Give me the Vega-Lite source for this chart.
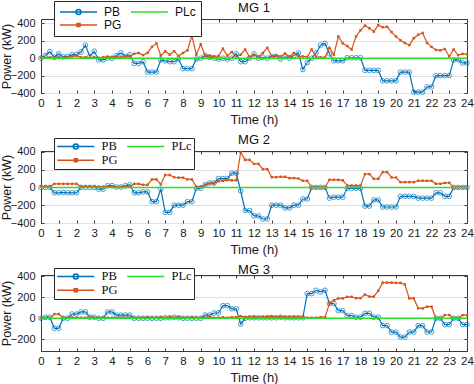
{
"$schema": "https://vega.github.io/schema/vega-lite/v6.json",
"padding": {"left": 0, "top": 0, "right": 0, "bottom": 0},
"spacing": 6,
"resolve": {"scale": {"color": "independent", "shape": "independent"}, "legend": {"color": "independent", "shape": "independent"}},
"datasets": {
"mg1": [
{"h":0,"PB":0,"PG":5,"PLc":0},{"h":0.25,"PB":30,"PG":5,"PLc":0},{"h":0.5,"PB":75,"PG":10,"PLc":0},{"h":0.75,"PB":10,"PG":5,"PLc":0},
{"h":1,"PB":50,"PG":10,"PLc":0},{"h":1.25,"PB":15,"PG":5,"PLc":0},{"h":1.5,"PB":20,"PG":10,"PLc":0},{"h":1.75,"PB":40,"PG":20,"PLc":0},
{"h":2,"PB":45,"PG":30,"PLc":0},{"h":2.25,"PB":70,"PG":10,"PLc":0},{"h":2.5,"PB":150,"PG":10,"PLc":0},{"h":2.75,"PB":20,"PG":5,"PLc":0},
{"h":3,"PB":80,"PG":10,"PLc":0},{"h":3.25,"PB":-20,"PG":5,"PLc":0},{"h":3.5,"PB":-20,"PG":10,"PLc":0},{"h":3.75,"PB":0,"PG":15,"PLc":0},
{"h":4,"PB":0,"PG":10,"PLc":0},{"h":4.25,"PB":30,"PG":15,"PLc":0},{"h":4.5,"PB":60,"PG":10,"PLc":0},{"h":4.75,"PB":20,"PG":20,"PLc":0},
{"h":5,"PB":40,"PG":15,"PLc":0},{"h":5.25,"PB":-60,"PG":50,"PLc":0},{"h":5.5,"PB":-60,"PG":60,"PLc":0},{"h":5.75,"PB":-40,"PG":35,"PLc":0},
{"h":6,"PB":-160,"PG":60,"PLc":0},{"h":6.25,"PB":-160,"PG":130,"PLc":0},{"h":6.5,"PB":-160,"PG":170,"PLc":0},{"h":6.75,"PB":-20,"PG":30,"PLc":0},
{"h":7,"PB":-30,"PG":80,"PLc":0},{"h":7.25,"PB":-40,"PG":40,"PLc":0},{"h":7.5,"PB":-40,"PG":80,"PLc":0},{"h":7.75,"PB":-10,"PG":25,"PLc":0},
{"h":8,"PB":-120,"PG":60,"PLc":0},{"h":8.25,"PB":-120,"PG":90,"PLc":0},{"h":8.5,"PB":-120,"PG":260,"PLc":0},{"h":8.75,"PB":-10,"PG":40,"PLc":0},
{"h":9,"PB":0,"PG":160,"PLc":0},{"h":9.25,"PB":30,"PG":30,"PLc":0},{"h":9.5,"PB":10,"PG":30,"PLc":0},{"h":9.75,"PB":0,"PG":20,"PLc":0},
{"h":10,"PB":-10,"PG":25,"PLc":0},{"h":10.25,"PB":0,"PG":110,"PLc":0},{"h":10.5,"PB":-10,"PG":30,"PLc":0},{"h":10.75,"PB":0,"PG":70,"PLc":0},
{"h":11,"PB":50,"PG":20,"PLc":0},{"h":11.25,"PB":-40,"PG":40,"PLc":0},{"h":11.5,"PB":-40,"PG":100,"PLc":0},{"h":11.75,"PB":0,"PG":15,"PLc":0},
{"h":12,"PB":50,"PG":35,"PLc":0},{"h":12.25,"PB":0,"PG":20,"PLc":0},{"h":12.5,"PB":10,"PG":60,"PLc":0},{"h":12.75,"PB":0,"PG":120,"PLc":0},
{"h":13,"PB":20,"PG":20,"PLc":0},{"h":13.25,"PB":20,"PG":30,"PLc":0},{"h":13.5,"PB":-10,"PG":20,"PLc":0},{"h":13.75,"PB":15,"PG":55,"PLc":0},
{"h":14,"PB":0,"PG":20,"PLc":0},{"h":14.25,"PB":30,"PG":60,"PLc":0},{"h":14.5,"PB":60,"PG":20,"PLc":0},{"h":14.75,"PB":-130,"PG":20,"PLc":0},
{"h":15,"PB":-50,"PG":15,"PLc":0},{"h":15.25,"PB":0,"PG":100,"PLc":0},{"h":15.5,"PB":60,"PG":15,"PLc":0},{"h":15.75,"PB":150,"PG":10,"PLc":0},
{"h":16,"PB":170,"PG":10,"PLc":0},{"h":16.25,"PB":50,"PG":120,"PLc":0},{"h":16.5,"PB":-30,"PG":40,"PLc":0},{"h":16.75,"PB":-30,"PG":250,"PLc":0},
{"h":17,"PB":-30,"PG":170,"PLc":0},{"h":17.25,"PB":5,"PG":140,"PLc":0},{"h":17.5,"PB":5,"PG":100,"PLc":0},{"h":17.75,"PB":5,"PG":250,"PLc":0},
{"h":18,"PB":5,"PG":320,"PLc":0},{"h":18.25,"PB":-140,"PG":375,"PLc":0},{"h":18.5,"PB":-140,"PG":345,"PLc":0},{"h":18.75,"PB":-140,"PG":305,"PLc":0},
{"h":19,"PB":-140,"PG":380,"PLc":0},{"h":19.25,"PB":-260,"PG":355,"PLc":0},{"h":19.5,"PB":-260,"PG":360,"PLc":0},{"h":19.75,"PB":-260,"PG":300,"PLc":0},
{"h":20,"PB":-260,"PG":250,"PLc":0},{"h":20.25,"PB":-160,"PG":205,"PLc":0},{"h":20.5,"PB":-160,"PG":175,"PLc":0},{"h":20.75,"PB":-160,"PG":150,"PLc":0},
{"h":21,"PB":-390,"PG":230,"PLc":0},{"h":21.25,"PB":-390,"PG":270,"PLc":0},{"h":21.5,"PB":-390,"PG":290,"PLc":0},{"h":21.75,"PB":-330,"PG":175,"PLc":0},
{"h":22,"PB":-330,"PG":130,"PLc":0},{"h":22.25,"PB":-200,"PG":95,"PLc":0},{"h":22.5,"PB":-200,"PG":90,"PLc":0},{"h":22.75,"PB":-200,"PG":105,"PLc":0},
{"h":23,"PB":-200,"PG":20,"PLc":0},{"h":23.25,"PB":-20,"PG":100,"PLc":0},{"h":23.5,"PB":-20,"PG":35,"PLc":0},{"h":23.75,"PB":-55,"PG":50,"PLc":0},
{"h":24,"PB":-55,"PG":45,"PLc":0}
],
"mg2": [
{"h":0,"PB":0,"PG":10,"PLc":0},{"h":0.25,"PB":0,"PG":10,"PLc":0},{"h":0.5,"PB":0,"PG":10,"PLc":0},{"h":0.75,"PB":-60,"PG":40,"PLc":0},
{"h":1,"PB":-60,"PG":40,"PLc":0},{"h":1.25,"PB":-55,"PG":40,"PLc":0},{"h":1.5,"PB":-60,"PG":40,"PLc":0},{"h":1.75,"PB":-60,"PG":40,"PLc":0},
{"h":2,"PB":-60,"PG":40,"PLc":0},{"h":2.25,"PB":0,"PG":10,"PLc":0},{"h":2.5,"PB":0,"PG":10,"PLc":0},{"h":2.75,"PB":0,"PG":10,"PLc":0},
{"h":3,"PB":0,"PG":10,"PLc":0},{"h":3.25,"PB":-20,"PG":10,"PLc":0},{"h":3.5,"PB":-20,"PG":10,"PLc":0},{"h":3.75,"PB":20,"PG":10,"PLc":0},
{"h":4,"PB":20,"PG":5,"PLc":0},{"h":4.25,"PB":5,"PG":5,"PLc":0},{"h":4.5,"PB":5,"PG":5,"PLc":0},{"h":4.75,"PB":20,"PG":5,"PLc":0},
{"h":5,"PB":30,"PG":5,"PLc":0},{"h":5.25,"PB":-60,"PG":40,"PLc":0},{"h":5.5,"PB":-60,"PG":40,"PLc":0},{"h":5.75,"PB":-50,"PG":30,"PLc":0},
{"h":6,"PB":-50,"PG":30,"PLc":0},{"h":6.25,"PB":-160,"PG":90,"PLc":0},{"h":6.5,"PB":-160,"PG":90,"PLc":0},{"h":6.75,"PB":-20,"PG":35,"PLc":0},
{"h":7,"PB":-280,"PG":140,"PLc":0},{"h":7.25,"PB":-280,"PG":140,"PLc":0},{"h":7.5,"PB":-200,"PG":115,"PLc":0},{"h":7.75,"PB":-200,"PG":110,"PLc":0},
{"h":8,"PB":-200,"PG":110,"PLc":0},{"h":8.25,"PB":-160,"PG":90,"PLc":0},{"h":8.5,"PB":-160,"PG":90,"PLc":0},{"h":8.75,"PB":-10,"PG":10,"PLc":0},
{"h":9,"PB":-10,"PG":10,"PLc":0},{"h":9.25,"PB":30,"PG":30,"PLc":0},{"h":9.5,"PB":50,"PG":45,"PLc":0},{"h":9.75,"PB":50,"PG":45,"PLc":0},
{"h":10,"PB":100,"PG":70,"PLc":0},{"h":10.25,"PB":100,"PG":75,"PLc":0},{"h":10.5,"PB":100,"PG":85,"PLc":0},{"h":10.75,"PB":160,"PG":80,"PLc":0},
{"h":11,"PB":160,"PG":80,"PLc":0},{"h":11.25,"PB":-40,"PG":396,"PLc":0},{"h":11.5,"PB":-260,"PG":310,"PLc":0},{"h":11.75,"PB":-260,"PG":310,"PLc":0},
{"h":12,"PB":-320,"PG":265,"PLc":0},{"h":12.25,"PB":-320,"PG":265,"PLc":0},{"h":12.5,"PB":-355,"PG":205,"PLc":0},{"h":12.75,"PB":-355,"PG":205,"PLc":0},
{"h":13,"PB":-200,"PG":115,"PLc":0},{"h":13.25,"PB":-200,"PG":115,"PLc":0},{"h":13.5,"PB":-200,"PG":120,"PLc":0},{"h":13.75,"PB":-230,"PG":120,"PLc":0},
{"h":14,"PB":-230,"PG":105,"PLc":0},{"h":14.25,"PB":-200,"PG":105,"PLc":0},{"h":14.5,"PB":-200,"PG":100,"PLc":0},{"h":14.75,"PB":-130,"PG":75,"PLc":0},
{"h":15,"PB":-130,"PG":75,"PLc":0},{"h":15.25,"PB":0,"PG":0,"PLc":0},{"h":15.5,"PB":0,"PG":0,"PLc":0},{"h":15.75,"PB":0,"PG":0,"PLc":0},
{"h":16,"PB":0,"PG":0,"PLc":0},{"h":16.25,"PB":-120,"PG":86,"PLc":0},{"h":16.5,"PB":-110,"PG":86,"PLc":0},{"h":16.75,"PB":-110,"PG":86,"PLc":0},
{"h":17,"PB":-110,"PG":80,"PLc":0},{"h":17.25,"PB":-10,"PG":22,"PLc":0},{"h":17.5,"PB":-10,"PG":22,"PLc":0},{"h":17.75,"PB":-10,"PG":22,"PLc":0},
{"h":18,"PB":-10,"PG":22,"PLc":0},{"h":18.25,"PB":-210,"PG":150,"PLc":0},{"h":18.5,"PB":-210,"PG":150,"PLc":0},{"h":18.75,"PB":-140,"PG":97,"PLc":0},
{"h":19,"PB":-140,"PG":97,"PLc":0},{"h":19.25,"PB":-220,"PG":172,"PLc":0},{"h":19.5,"PB":-220,"PG":172,"PLc":0},{"h":19.75,"PB":-220,"PG":112,"PLc":0},
{"h":20,"PB":-220,"PG":112,"PLc":0},{"h":20.25,"PB":-100,"PG":60,"PLc":0},{"h":20.5,"PB":-100,"PG":60,"PLc":0},{"h":20.75,"PB":-100,"PG":60,"PLc":0},
{"h":21,"PB":-100,"PG":60,"PLc":0},{"h":21.25,"PB":-120,"PG":75,"PLc":0},{"h":21.5,"PB":-120,"PG":75,"PLc":0},{"h":21.75,"PB":-120,"PG":75,"PLc":0},
{"h":22,"PB":-120,"PG":75,"PLc":0},{"h":22.25,"PB":-60,"PG":41,"PLc":0},{"h":22.5,"PB":-60,"PG":41,"PLc":0},{"h":22.75,"PB":-100,"PG":52,"PLc":0},
{"h":23,"PB":-100,"PG":52,"PLc":0},{"h":23.25,"PB":0,"PG":0,"PLc":0},{"h":23.5,"PB":0,"PG":0,"PLc":0},{"h":23.75,"PB":0,"PG":0,"PLc":0},
{"h":24,"PB":0,"PG":0,"PLc":0}
],
"mg3": [
{"h":0,"PB":0,"PG":0,"PLc":0},{"h":0.25,"PB":10,"PG":0,"PLc":0},{"h":0.5,"PB":10,"PG":0,"PLc":0},{"h":0.75,"PB":-95,"PG":40,"PLc":0},
{"h":1,"PB":-95,"PG":40,"PLc":0},{"h":1.25,"PB":0,"PG":5,"PLc":0},{"h":1.5,"PB":0,"PG":5,"PLc":0},{"h":1.75,"PB":40,"PG":5,"PLc":0},
{"h":2,"PB":40,"PG":5,"PLc":0},{"h":2.25,"PB":60,"PG":5,"PLc":0},{"h":2.5,"PB":60,"PG":5,"PLc":0},{"h":2.75,"PB":10,"PG":5,"PLc":0},
{"h":3,"PB":10,"PG":5,"PLc":0},{"h":3.25,"PB":0,"PG":5,"PLc":0},{"h":3.5,"PB":0,"PG":5,"PLc":0},{"h":3.75,"PB":60,"PG":5,"PLc":0},
{"h":4,"PB":60,"PG":5,"PLc":0},{"h":4.25,"PB":30,"PG":5,"PLc":0},{"h":4.5,"PB":30,"PG":5,"PLc":0},{"h":4.75,"PB":30,"PG":5,"PLc":0},
{"h":5,"PB":30,"PG":5,"PLc":0},{"h":5.25,"PB":0,"PG":5,"PLc":0},{"h":5.5,"PB":0,"PG":5,"PLc":0},{"h":5.75,"PB":0,"PG":5,"PLc":0},
{"h":6,"PB":0,"PG":10,"PLc":0},{"h":6.25,"PB":0,"PG":5,"PLc":0},{"h":6.5,"PB":0,"PG":5,"PLc":0},{"h":6.75,"PB":0,"PG":10,"PLc":0},
{"h":7,"PB":5,"PG":5,"PLc":0},{"h":7.25,"PB":5,"PG":10,"PLc":0},{"h":7.5,"PB":10,"PG":5,"PLc":0},{"h":7.75,"PB":5,"PG":10,"PLc":0},
{"h":8,"PB":0,"PG":5,"PLc":0},{"h":8.25,"PB":0,"PG":5,"PLc":0},{"h":8.5,"PB":0,"PG":10,"PLc":0},{"h":8.75,"PB":0,"PG":5,"PLc":0},
{"h":9,"PB":0,"PG":5,"PLc":0},{"h":9.25,"PB":30,"PG":5,"PLc":0},{"h":9.5,"PB":30,"PG":10,"PLc":0},{"h":9.75,"PB":50,"PG":5,"PLc":0},
{"h":10,"PB":50,"PG":5,"PLc":0},{"h":10.25,"PB":120,"PG":10,"PLc":0},{"h":10.5,"PB":120,"PG":5,"PLc":0},{"h":10.75,"PB":90,"PG":10,"PLc":0},
{"h":11,"PB":90,"PG":10,"PLc":0},{"h":11.25,"PB":-55,"PG":20,"PLc":0},{"h":11.5,"PB":0,"PG":10,"PLc":0},{"h":11.75,"PB":5,"PG":10,"PLc":0},
{"h":12,"PB":5,"PG":15,"PLc":0},{"h":12.25,"PB":5,"PG":10,"PLc":0},{"h":12.5,"PB":5,"PG":10,"PLc":0},{"h":12.75,"PB":5,"PG":15,"PLc":0},
{"h":13,"PB":5,"PG":20,"PLc":0},{"h":13.25,"PB":5,"PG":10,"PLc":0},{"h":13.5,"PB":10,"PG":15,"PLc":0},{"h":13.75,"PB":5,"PG":10,"PLc":0},
{"h":14,"PB":5,"PG":10,"PLc":0},{"h":14.25,"PB":5,"PG":10,"PLc":0},{"h":14.5,"PB":5,"PG":10,"PLc":0},{"h":14.75,"PB":5,"PG":10,"PLc":0},
{"h":15,"PB":234,"PG":5,"PLc":0},{"h":15.25,"PB":234,"PG":5,"PLc":0},{"h":15.5,"PB":265,"PG":5,"PLc":0},{"h":15.75,"PB":250,"PG":10,"PLc":0},
{"h":16,"PB":265,"PG":10,"PLc":0},{"h":16.25,"PB":140,"PG":140,"PLc":0},{"h":16.5,"PB":140,"PG":170,"PLc":0},{"h":16.75,"PB":72,"PG":188,"PLc":0},
{"h":17,"PB":72,"PG":188,"PLc":0},{"h":17.25,"PB":25,"PG":203,"PLc":0},{"h":17.5,"PB":25,"PG":203,"PLc":0},{"h":17.75,"PB":10,"PG":190,"PLc":0},
{"h":18,"PB":10,"PG":190,"PLc":0},{"h":18.25,"PB":47,"PG":225,"PLc":0},{"h":18.5,"PB":47,"PG":206,"PLc":0},{"h":18.75,"PB":10,"PG":206,"PLc":0},
{"h":19,"PB":10,"PG":260,"PLc":0},{"h":19.25,"PB":-69,"PG":338,"PLc":0},{"h":19.5,"PB":-69,"PG":338,"PLc":0},{"h":19.75,"PB":-131,"PG":338,"PLc":0},
{"h":20,"PB":-131,"PG":335,"PLc":0},{"h":20.25,"PB":-178,"PG":335,"PLc":0},{"h":20.5,"PB":-178,"PG":320,"PLc":0},{"h":20.75,"PB":-131,"PG":188,"PLc":0},
{"h":21,"PB":-131,"PG":188,"PLc":0},{"h":21.25,"PB":-70,"PG":94,"PLc":0},{"h":21.5,"PB":-70,"PG":94,"PLc":0},{"h":21.75,"PB":-130,"PG":110,"PLc":0},
{"h":22,"PB":-130,"PG":110,"PLc":0},{"h":22.25,"PB":0,"PG":0,"PLc":0},{"h":22.5,"PB":0,"PG":0,"PLc":0},{"h":22.75,"PB":-60,"PG":31,"PLc":0},
{"h":23,"PB":-60,"PG":31,"PLc":0},{"h":23.25,"PB":0,"PG":0,"PLc":0},{"h":23.5,"PB":0,"PG":0,"PLc":0},{"h":23.75,"PB":-60,"PG":30,"PLc":0},
{"h":24,"PB":-60,"PG":30,"PLc":0}
]
},
"vconcat": [
{
"width": 426, "height": 74,
"data": {"name": "mg1"},
"transform": [{"fold": ["PB","PG","PLc"], "as": ["s","p"]}],
"title": {"text": "MG 1", "offset": -14.5},
"encoding": {
 "x": {"field": "h", "type": "quantitative", "scale": {"domain": [0,24], "nice": false}, "axis": null},
 "y": {"field": "p", "type": "quantitative", "scale": {"domain": [-400,450], "nice": false}, "axis": null}
},
"layer": [
 {"transform": [{"filter": "datum.s === 'PB'"}], "mark": {"type": "line", "strokeWidth": 1.2, "color": "#0072BD"},
  "encoding": {
   "x": {"field": "h", "type": "quantitative", "scale": {"domain": [0,24], "nice": false}, "axis": {"title": "Time (h)", "values": [0,1,2,3,4,5,6,7,8,9,10,11,12,13,14,15,16,17,18,19,20,21,22,23,24]}},
   "y": {"field": "p", "type": "quantitative", "scale": {"domain": [-400,450], "nice": false}, "axis": {"title": "Power (kW)", "values": [-400,-200,0,200,400], "grid": true, "titleX": -27.5}}
  }},
 {"transform": [{"filter": "datum.s === 'PB'"}], "mark": {"type": "point", "shape": "circle", "filled": false, "size": 22, "strokeWidth": 1, "color": "#0072BD"}},
 {"transform": [{"filter": "datum.s === 'PG'"}], "mark": {"type": "line", "strokeWidth": 1.2, "color": "#D95319"}},
 {"transform": [{"filter": "datum.s === 'PG'"}], "mark": {"type": "square", "size": 6, "color": "#D95319", "opacity": 1}},
 {"transform": [{"filter": "datum.s === 'PLc'"}], "mark": {"type": "line", "strokeWidth": 1.6, "color": "#2BE02B"},
  "encoding": {
   "x": {"field": "h", "type": "quantitative", "scale": {"domain": [0,24], "nice": false}, "axis": {"orient": "top", "labels": false, "title": null, "values": [0,1,2,3,4,5,6,7,8,9,10,11,12,13,14,15,16,17,18,19,20,21,22,23,24]}},
   "y": {"field": "p", "type": "quantitative", "scale": {"domain": [-400,450], "nice": false}, "axis": {"orient": "right", "labels": false, "title": null, "values": [-400,-200,0,200,400]}}
  }},
 {"transform": [{"filter": "datum.h === 0"}], "mark": {"type": "point", "opacity": 0, "filled": false, "size": 100, "strokeWidth": 1.5},
  "encoding": {
   "shape": {"field": "s", "type": "nominal", "scale": {"domain": ["PB","PG","PLc"], "range": ["M-1,0H6.4M2.2,0A0.5,0.5,0,1,0,3.2,0A0.5,0.5,0,1,0,2.2,0", "M-1,0H6.4M2.4,-0.3H3V0.3H2.4Z", "M-1,0H6.4"]},
    "legend": {"title": null, "orient": "none", "legendX": 13, "legendY": -18, "columns": 2, "symbolSize": 100, "symbolOpacity": 1, "symbolStrokeWidth": 1.5, "labelFontSize": 12, "labelFont": "Liberation Sans", "labelColor": "#111", "labelOffset": 33, "columnPadding": 6, "rowPadding": 1, "padding": 5, "strokeColor": "#262626", "fillColor": "white"}},
   "color": {"field": "s", "type": "nominal", "scale": {"domain": ["PB","PG","PLc"], "range": ["#0072BD","#D95319","#2BE02B"]},
    "legend": {"title": null, "orient": "none", "legendX": 13, "legendY": -18, "columns": 2, "symbolSize": 100, "symbolOpacity": 1, "symbolStrokeWidth": 1.5, "labelFontSize": 12, "labelFont": "Liberation Sans", "labelColor": "#111", "labelOffset": 33, "columnPadding": 6, "rowPadding": 1, "padding": 5, "strokeColor": "#262626", "fillColor": "white"}}
  }}
],
"resolve": {"axis": {"x": "independent", "y": "independent"}}
},
{
"width": 426, "height": 72,
"data": {"name": "mg2"},
"transform": [{"fold": ["PB","PG","PLc"], "as": ["s","p"]}],
"title": {"text": "MG 2", "offset": -9.5},
"encoding": {
 "x": {"field": "h", "type": "quantitative", "scale": {"domain": [0,24], "nice": false}, "axis": null},
 "y": {"field": "p", "type": "quantitative", "scale": {"domain": [-400,410], "nice": false}, "axis": null}
},
"layer": [
 {"transform": [{"filter": "datum.s === 'PB'"}], "mark": {"type": "line", "strokeWidth": 1.2, "color": "#0072BD"},
  "encoding": {
   "x": {"field": "h", "type": "quantitative", "scale": {"domain": [0,24], "nice": false}, "axis": {"title": "Time (h)", "values": [0,1,2,3,4,5,6,7,8,9,10,11,12,13,14,15,16,17,18,19,20,21,22,23,24]}},
   "y": {"field": "p", "type": "quantitative", "scale": {"domain": [-400,410], "nice": false}, "axis": {"title": "Power (kW)", "values": [-400,-200,0,200,400], "grid": true, "titleX": -27.5}}
  }},
 {"transform": [{"filter": "datum.s === 'PB'"}], "mark": {"type": "point", "shape": "circle", "filled": false, "size": 22, "strokeWidth": 1, "color": "#0072BD"}},
 {"transform": [{"filter": "datum.s === 'PG'"}], "mark": {"type": "line", "strokeWidth": 1.2, "color": "#D95319"}},
 {"transform": [{"filter": "datum.s === 'PG'"}], "mark": {"type": "square", "size": 6, "color": "#D95319", "opacity": 1}},
 {"transform": [{"filter": "datum.s === 'PLc'"}], "mark": {"type": "line", "strokeWidth": 1.6, "color": "#2BE02B"},
  "encoding": {
   "x": {"field": "h", "type": "quantitative", "scale": {"domain": [0,24], "nice": false}, "axis": {"orient": "top", "labels": false, "title": null, "values": [0,1,2,3,4,5,6,7,8,9,10,11,12,13,14,15,16,17,18,19,20,21,22,23,24]}},
   "y": {"field": "p", "type": "quantitative", "scale": {"domain": [-400,410], "nice": false}, "axis": {"orient": "right", "labels": false, "title": null, "values": [-400,-200,0,200,400]}}
  }},
 {"transform": [{"filter": "datum.h === 0"}], "mark": {"type": "point", "opacity": 0, "filled": false, "size": 100, "strokeWidth": 1.5},
  "encoding": {
   "shape": {"field": "s", "type": "nominal", "scale": {"domain": ["PB","PG","PLc"], "range": ["M-1,0H6.4M2.2,0A0.5,0.5,0,1,0,3.2,0A0.5,0.5,0,1,0,2.2,0", "M-1,0H6.4M2.4,-0.3H3V0.3H2.4Z", "M-1,0H6.4"]},
    "legend": {"title": null, "orient": "none", "legendX": 13, "legendY": -13, "columns": 2, "symbolSize": 100, "symbolOpacity": 1, "symbolStrokeWidth": 1.5, "labelFontSize": 12.5, "labelFont": "Liberation Serif", "labelColor": "#111", "labelOffset": 33, "columnPadding": 6, "rowPadding": 1, "padding": 2, "strokeColor": "#262626", "fillColor": "white"}},
   "color": {"field": "s", "type": "nominal", "scale": {"domain": ["PB","PG","PLc"], "range": ["#0072BD","#D95319","#2BE02B"]},
    "legend": {"title": null, "orient": "none", "legendX": 13, "legendY": -13, "columns": 2, "symbolSize": 100, "symbolOpacity": 1, "symbolStrokeWidth": 1.5, "labelFontSize": 12.5, "labelFont": "Liberation Serif", "labelColor": "#111", "labelOffset": 33, "columnPadding": 6, "rowPadding": 1, "padding": 2, "strokeColor": "#262626", "fillColor": "white"}}
  }}
],
"resolve": {"axis": {"x": "independent", "y": "independent"}}
},
{
"width": 426, "height": 76,
"data": {"name": "mg3"},
"transform": [{"fold": ["PB","PG","PLc"], "as": ["s","p"]}],
"title": {"text": "MG 3", "offset": -9.5},
"encoding": {
 "x": {"field": "h", "type": "quantitative", "scale": {"domain": [0,24], "nice": false}, "axis": null},
 "y": {"field": "p", "type": "quantitative", "scale": {"domain": [-310,410], "nice": false}, "axis": null}
},
"layer": [
 {"transform": [{"filter": "datum.s === 'PB'"}], "mark": {"type": "line", "strokeWidth": 1.2, "color": "#0072BD"},
  "encoding": {
   "x": {"field": "h", "type": "quantitative", "scale": {"domain": [0,24], "nice": false}, "axis": {"title": "Time (h)", "values": [0,1,2,3,4,5,6,7,8,9,10,11,12,13,14,15,16,17,18,19,20,21,22,23,24]}},
   "y": {"field": "p", "type": "quantitative", "scale": {"domain": [-310,410], "nice": false}, "axis": {"title": "Power (kW)", "values": [-200,0,200,400], "grid": true, "titleX": -27.5}}
  }},
 {"transform": [{"filter": "datum.s === 'PB'"}], "mark": {"type": "point", "shape": "circle", "filled": false, "size": 22, "strokeWidth": 1, "color": "#0072BD"}},
 {"transform": [{"filter": "datum.s === 'PG'"}], "mark": {"type": "line", "strokeWidth": 1.2, "color": "#D95319"}},
 {"transform": [{"filter": "datum.s === 'PG'"}], "mark": {"type": "square", "size": 6, "color": "#D95319", "opacity": 1}},
 {"transform": [{"filter": "datum.s === 'PLc'"}], "mark": {"type": "line", "strokeWidth": 1.4, "color": "#2BE02B"},
  "encoding": {
   "x": {"field": "h", "type": "quantitative", "scale": {"domain": [0,24], "nice": false}, "axis": {"orient": "top", "labels": false, "title": null, "values": [0,1,2,3,4,5,6,7,8,9,10,11,12,13,14,15,16,17,18,19,20,21,22,23,24]}},
   "y": {"field": "p", "type": "quantitative", "scale": {"domain": [-310,410], "nice": false}, "axis": {"orient": "right", "labels": false, "title": null, "values": [-200,0,200,400]}}
  }},
 {"transform": [{"filter": "datum.h === 0"}], "mark": {"type": "point", "opacity": 0, "filled": false, "size": 100, "strokeWidth": 1.5},
  "encoding": {
   "shape": {"field": "s", "type": "nominal", "scale": {"domain": ["PB","PG","PLc"], "range": ["M-1,0H6.4M2.2,0A0.5,0.5,0,1,0,3.2,0A0.5,0.5,0,1,0,2.2,0", "M-1,0H6.4M2.4,-0.3H3V0.3H2.4Z", "M-1,0H6.4"]},
    "legend": {"title": null, "orient": "none", "legendX": 13, "legendY": -7, "columns": 2, "symbolSize": 100, "symbolOpacity": 1, "symbolStrokeWidth": 1.5, "labelFontSize": 12.5, "labelFont": "Liberation Serif", "labelColor": "#111", "labelOffset": 33, "columnPadding": 6, "rowPadding": 1, "padding": 2, "strokeColor": "#262626", "fillColor": "white"}},
   "color": {"field": "s", "type": "nominal", "scale": {"domain": ["PB","PG","PLc"], "range": ["#0072BD","#D95319","#2BE02B"]},
    "legend": {"title": null, "orient": "none", "legendX": 13, "legendY": -7, "columns": 2, "symbolSize": 100, "symbolOpacity": 1, "symbolStrokeWidth": 1.5, "labelFontSize": 12.5, "labelFont": "Liberation Serif", "labelColor": "#111", "labelOffset": 33, "columnPadding": 6, "rowPadding": 1, "padding": 2, "strokeColor": "#262626", "fillColor": "white"}}
  }}
],
"resolve": {"axis": {"x": "independent", "y": "independent"}}
}
],
"config": {
 "font": "Liberation Sans",
 "view": {"stroke": "#3a3a3a", "strokeWidth": 1},
 "axis": {"domain": false, "grid": false, "gridColor": "#e0e0e0", "gridWidth": 1, "labelFont": "Liberation Sans", "labelFontSize": 11.5, "labelColor": "#1a1a1a", "titleFont": "Liberation Sans", "titleFontSize": 13, "titleFontWeight": "normal", "titleColor": "#1a1a1a", "tickColor": "#3a3a3a", "tickSize": -3, "labelPadding": 7, "labelFlush": false, "labelOverlap": false, "titlePadding": 5},
 "axisY": {"labelPadding": 9, "labelFontSize": 11, "titleFontSize": 12.5},
 "title": {"font": "Liberation Sans", "fontSize": 13, "fontWeight": "normal", "color": "#111", "anchor": "middle"}
}
}
